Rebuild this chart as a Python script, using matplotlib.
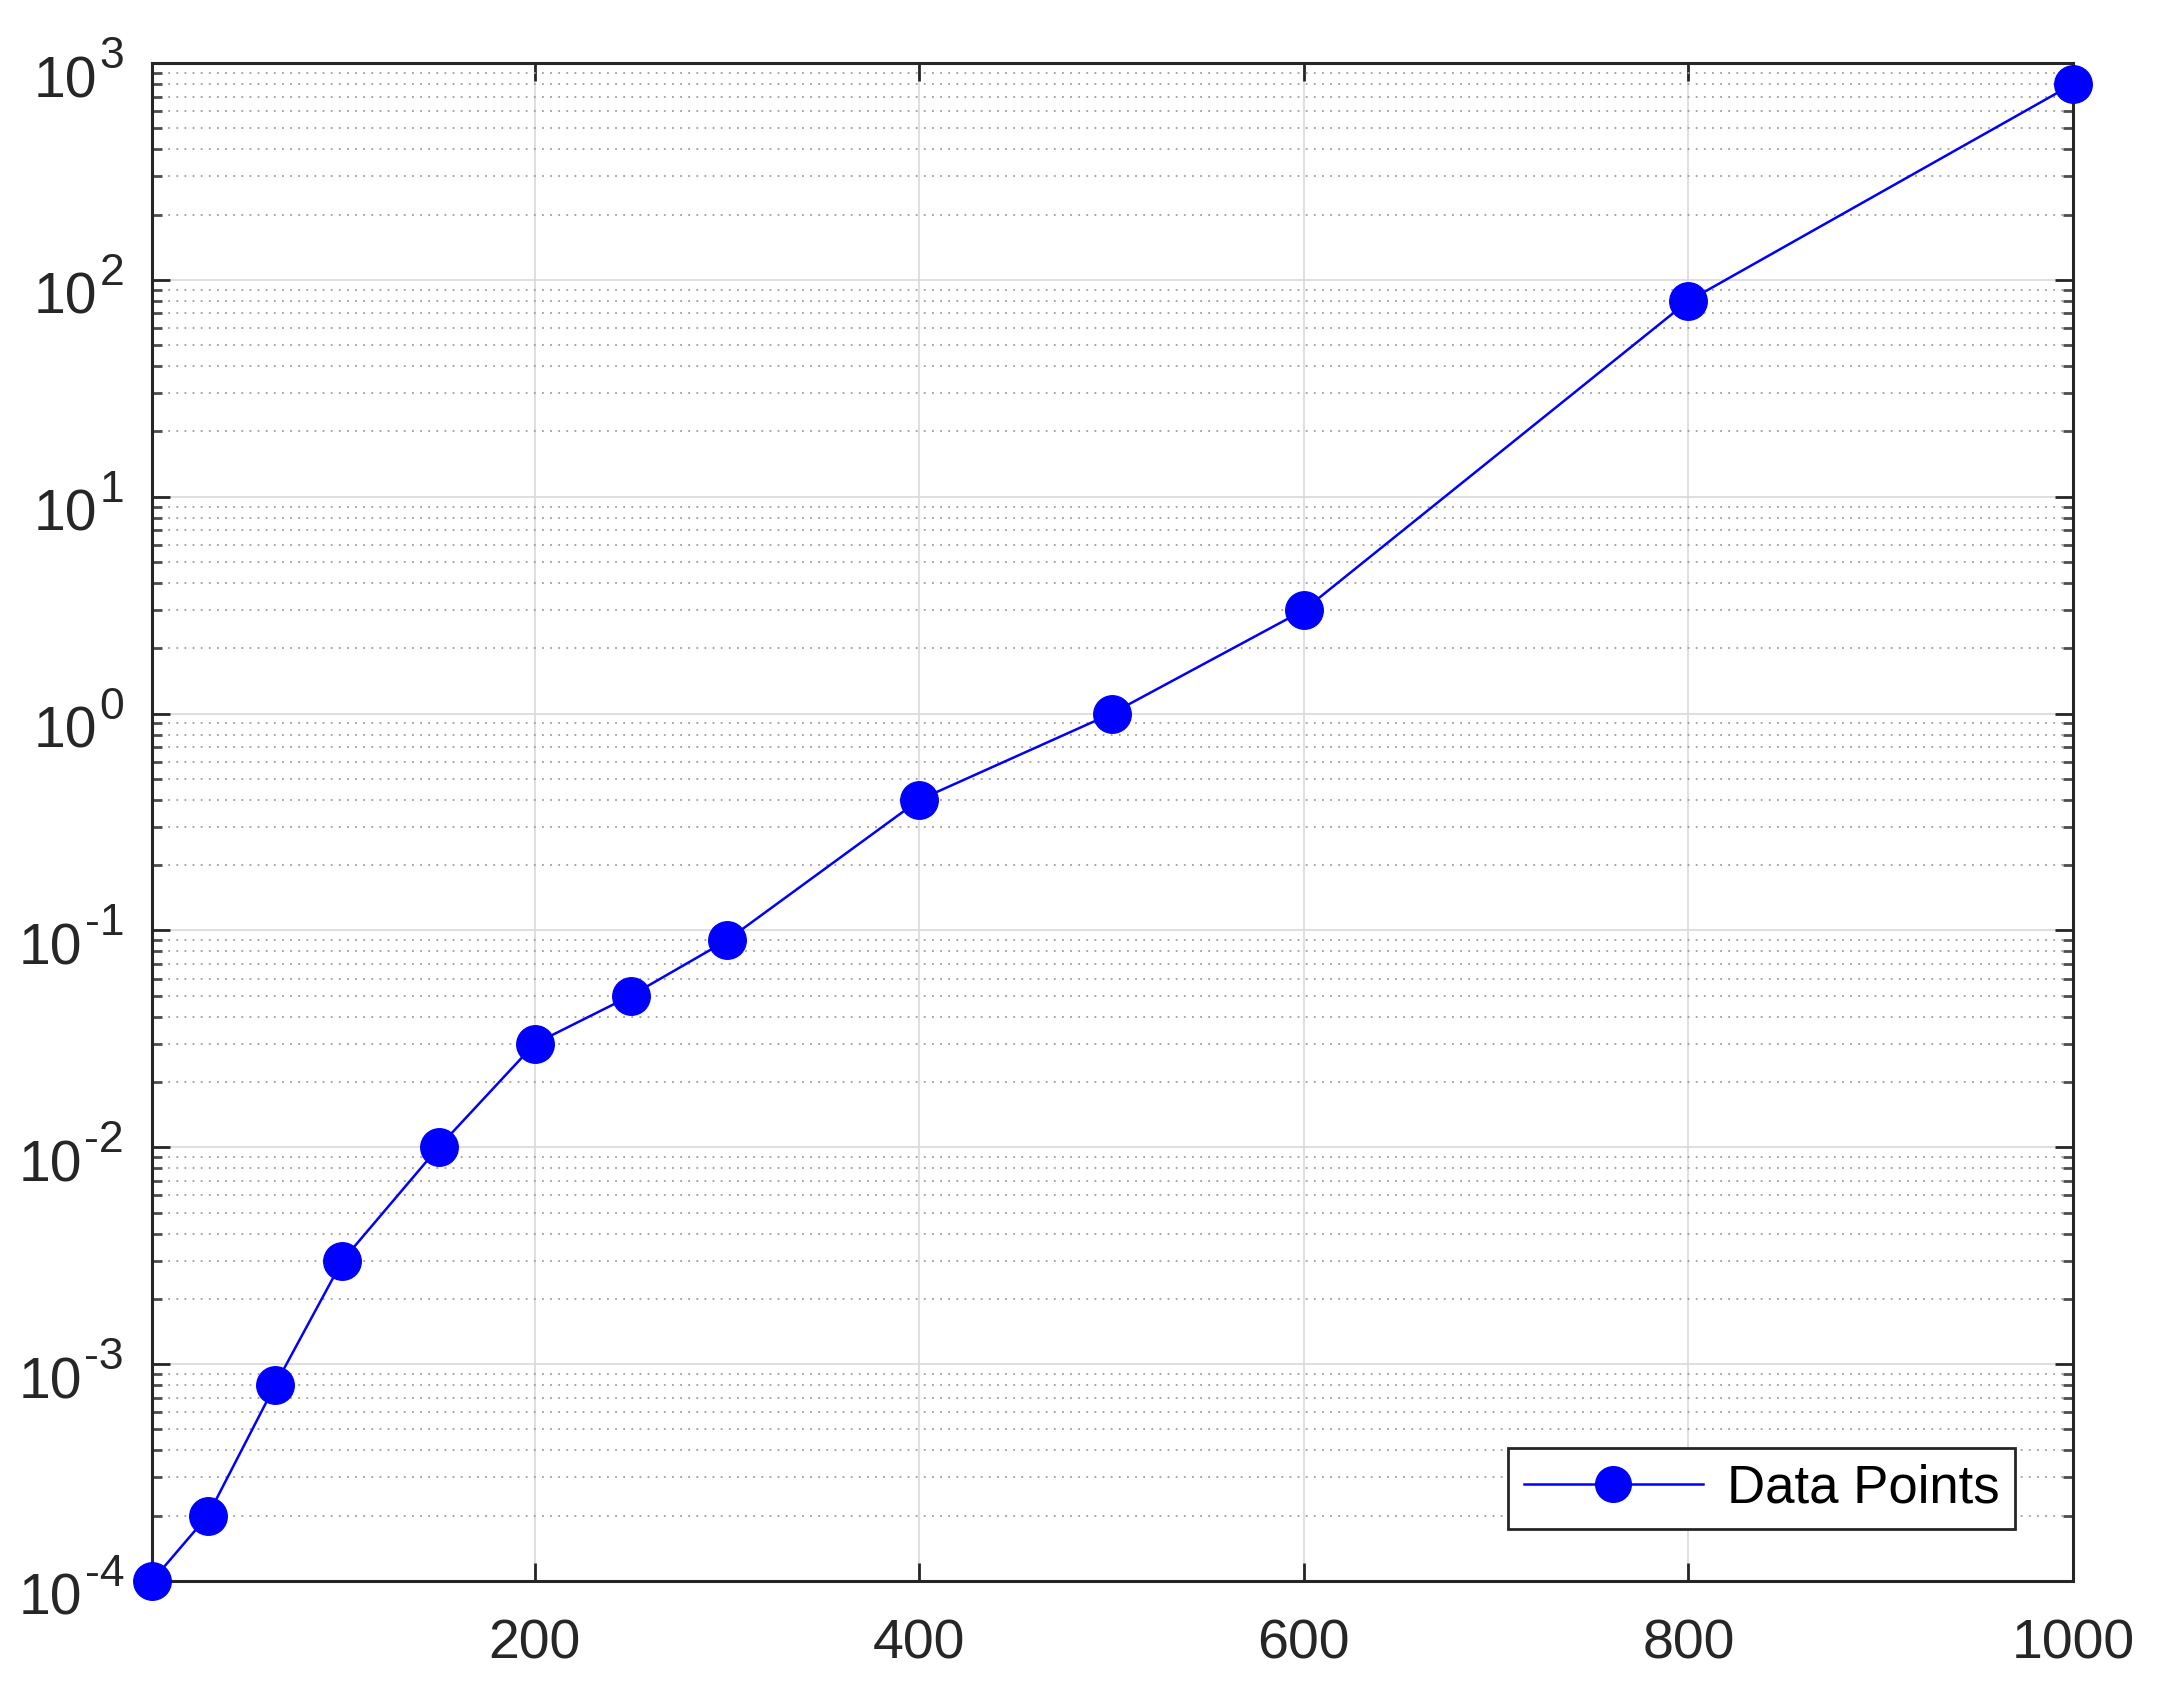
import matplotlib
matplotlib.use("Agg")
import matplotlib.pyplot as plt
from matplotlib.ticker import LogLocator, FixedLocator, NullFormatter
import math

plt.rcParams['font.family'] = ['Liberation Sans', 'DejaVu Sans']

# data
x_vals = [1, 30, 65, 100, 150, 200, 250, 300, 400, 500, 600, 800, 1000]
y_vals = [1e-4, 2e-4, 8e-4, 3e-3, 1e-2, 3e-2, 5e-2, 9e-2, 0.4, 1.0, 3.0, 80.0, 800.0]
x_ticks = [200, 400, 600, 800, 1000]
y_exponents = [-4, -3, -2, -1, 0, 1, 2, 3]
series_label = "Data Points"

fig = plt.figure(figsize=(21.6, 16.95), dpi=100)
ax = fig.add_axes([0.0704, 0.0673, 0.8893, 0.8955])

ax.plot(x_vals, y_vals, color=(0, 0, 1), lw=1.8, marker='o', markersize=27,
        markerfacecolor=(0, 0, 1), markeredgecolor=(0, 0, 1), label=series_label,
        clip_on=False, zorder=5)

ax.set_yscale('log')
ax.set_xlim(1, 1000)
ax.set_ylim(10.0 ** y_exponents[0], 10.0 ** y_exponents[-1])
ax.xaxis.set_major_locator(FixedLocator(x_ticks))
ax.yaxis.set_major_locator(FixedLocator([10.0 ** e for e in y_exponents]))
ax.yaxis.set_minor_locator(LogLocator(base=10, subs=range(2, 10), numticks=100))
ax.yaxis.set_minor_formatter(NullFormatter())
ax.yaxis.set_major_formatter(NullFormatter())

dark = (0.15, 0.15, 0.15)
ax.grid(True, which='major', color=(0.85, 0.85, 0.85), lw=1.2, ls='-')
ax.grid(True, which='minor', axis='y', color=(0.62, 0.62, 0.62), lw=1.3, ls=(0, (1, 3.5)))
ax.set_axisbelow(True)

for s in ax.spines.values():
    s.set_color(dark)
    s.set_linewidth(2.2)

ax.tick_params(which='major', direction='in', length=13, width=2, color=dark,
               top=True, right=True, labelsize=40, labelcolor=dark)
ax.tick_params(axis='x', which='major', pad=27)
ax.tick_params(which='minor', direction='in', length=7, width=2, color=(0.3, 0.3, 0.3),
               left=True, right=True)
ax.tick_params(axis='x', which='minor', bottom=False, top=False)

# y tick labels as 10^e with a hyphen-style minus, like the original
ytrans = ax.get_yaxis_transform()
for e in y_exponents:
    yv = 10.0 ** e
    exp_str = ('-%d' % (-e)) if e < 0 else ('%d' % e)
    t_exp = ax.annotate(exp_str, xy=(0, yv), xycoords=ytrans,
                        xytext=(-28, -5), textcoords='offset pixels',
                        ha='right', va='baseline', fontsize=32, color=dark,
                        annotation_clip=False)
    ax.annotate('10', xy=(0, yv), xycoords=(t_exp, ytrans),
                xytext=(-2, -34), textcoords='offset pixels',
                ha='right', va='baseline', fontsize=41, color=dark,
                annotation_clip=False)

leg = ax.legend(loc='lower right', bbox_to_anchor=(0.970, 0.034), borderaxespad=0,
                fontsize=38, frameon=True, fancybox=False, handlelength=3.4,
                handletextpad=0.45, borderpad=0.3, markerscale=0.95)
leg.get_frame().set_edgecolor(dark)
leg.get_frame().set_linewidth(2)
leg.get_frame().set_facecolor('white')
leg.get_frame().set_alpha(1)
leg.set_zorder(10)

fig.savefig("out.png", dpi=100)
